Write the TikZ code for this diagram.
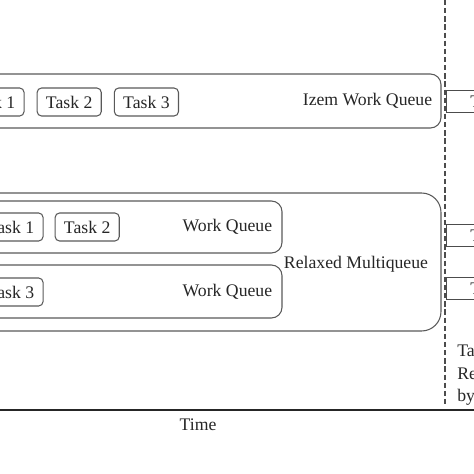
\documentclass[tikz,border=0pt]{standalone}
\usepackage{fontspec}
\setmainfont{Liberation Serif}
\usepackage{tikz}
\usetikzlibrary{arrows.meta,positioning}
\newcommand{\px}{0.565pt}

\begin{document}
\begin{tikzpicture}[
    x=0.565pt,y=-0.565pt,
    queue/.style={draw=black!65,line width=0.6pt,rounded corners=6pt,inner sep=0pt},
    task/.style={draw=black!65,line width=0.6pt,rounded corners=2.5pt,minimum height=28*\px,inner xsep=5pt,inner ysep=0pt,text=black!85},
    outbox/.style={draw=black!70,line width=0.6pt,anchor=west,minimum height=22*\px,inner xsep=13.5pt,inner ysep=0pt,text=black!85},
    lbl/.style={text=black!85,inner sep=0pt},
    >=Latex
  ]
    \useasboundingbox (0,0) rectangle (474,474);
    \clip (0,0) rectangle (474,474);
    % queues
    \node[queue,minimum width=601*\px,minimum height=54*\px] (izem) at (140.5,101) {};
    \node[queue,rounded corners=11pt,minimum width=601*\px,minimum height=138*\px] (relaxed) at (140.5,262) {};
    \node[queue,minimum width=432*\px,minimum height=52*\px] (wq1) at (66,227) {};
    \node[queue,minimum width=432*\px,minimum height=53*\px] (wq2) at (66,291.5) {};
    \node[lbl,anchor=east] (izemlbl) at ([xshift=-9*\px]izem.east) {Izem Work Queue};
    \node[lbl,anchor=east] (wq1lbl) at ([xshift=-10*\px]wq1.east) {Work Queue};
    \node[lbl,anchor=east] (wq2lbl) at ([xshift=-10*\px]wq2.east) {Work Queue};
    \node[lbl] (relaxedlbl) at (356,264) {Relaxed Multiqueue};
    % tasks
    \node[task] (a1) at (-8,102) {Task 1};
    \node[task,right=12*\px of a1] (a2) {Task 2};
    \node[task,right=12*\px of a2] (a3) {Task 3};
    \node[task] (b1) at (11,227) {Task 1};
    \node[task,right=11*\px of b1] (b2) {Task 2};
    \node[task] (c3) at (11,292) {Task 3};
    % removed tasks
    \node[outbox] (r1) at (446,101.5) {Task};
    \node[outbox] (r2) at (446,235.5) {Task};
    \node[outbox] (r3) at (446,288.5) {Task};
    \node[lbl,anchor=west,align=left,font=\linespread{1.05}\selectfont] (removed) at (457,375) {Tasks\\Removed\\by};
    % time
    \coordinate (cut top) at (445,0);
    \coordinate (cut bot) at (445,405);
    \draw[black!70,line width=1.2pt,dash pattern=on 3pt off 1.6pt] (cut top) -- (cut bot);
    \coordinate (t0) at (-10,410);
    \coordinate (t1) at (484,410);
    \draw[black!85,line width=1.5pt] (t0) -- (t1);
    \node[lbl] (time) at (198,425) {Time};
  \end{tikzpicture}
\end{document}
